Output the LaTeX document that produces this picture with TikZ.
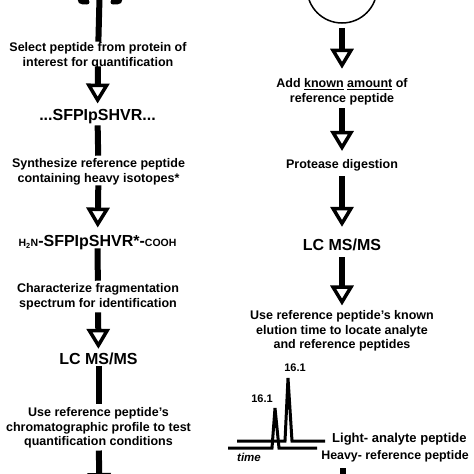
\documentclass[tikz,border=0pt]{standalone}
\usepackage{fontspec}
\setmainfont{Liberation Sans}
\usetikzlibrary{arrows.meta}

\begin{document}
\begin{tikzpicture}[x=1pt,y=-1pt,
  txt/.style={font=\bfseries\fontsize{12.5}{14.5}\selectfont, align=center, inner sep=0pt},
  big/.style={font=\bfseries\fontsize{16}{18}\selectfont, inner sep=0pt},
  small/.style={font=\bfseries\fontsize{11}{13}\selectfont, inner sep=0pt},
  shaft/.style={line width=6pt, shorten <=1pt, shorten >=3pt},
  arrow/.style={line width=6pt, -{Triangle[open, length=20pt, width=23pt, line width=3.5pt]}},
  trace/.style={line width=3pt}]
\useasboundingbox (0,0) rectangle (474,474);
\clip (0,0) rectangle (474,474);
% left column: synthetic reference peptide
\draw[line width=5pt, line cap=round] (80,-5) .. controls (80,2) .. (87,2);
\draw[line width=5pt, line cap=round] (120,-5) .. controls (120,2) .. (113,2);
\coordinate (topL) at (99.5,-2);
\node[txt] (select) at (98,56) {Select peptide from protein of\\interest for quantification};
\node[big] (pep) at (97.5,117) {...SFPIpSHVR...};
\node[txt] (synth) at (98.5,172) {Synthesize reference peptide\\containing heavy isotopes*};
\node[big] (hnn) at (97.5,243) {{\fontsize{10.5}{12}\selectfont H\textsubscript{2}N}-SFPIpSHVR*-{\fontsize{10.5}{12}\selectfont COOH}};
\node[txt] (charac) at (98,297) {Characterize fragmentation\\spectrum for identification};
\node[big] (lcL) at (98.5,359) {LC MS/MS};
\node[txt] (useL) at (98.5,428) {Use reference peptide's\\chromatographic profile to test\\quantification conditions};
\coordinate (outL) at (99.5,493);
\draw[shaft, shorten >=1pt] (topL) -- (select);
\draw[arrow, shorten <=-3pt, shorten >=6pt] (select) -- (pep);
\draw[shaft] (pep) -- (synth);
\draw[arrow, shorten >=8pt] (synth) -- (hnn);
\draw[shaft, shorten <=-2pt] (hnn) -- (charac);
\draw[arrow, shorten <=2pt, shorten >=4pt] (charac) -- (lcL);
\draw[shaft] (lcL) -- (useL);
\draw[arrow, shorten <=2pt] (useL) -- (outL);
% right column: sample
\node[draw, circle, line width=1.5pt, minimum size=70pt, inner sep=0pt] (prot) at (342,-12) {};
\node[txt] (add) at (342,92) {Add \underline{known} \underline{amount} of\\reference peptide};
\node[txt] (digest) at (342,165) {Protease digestion};
\node[big] (lcR) at (342,245) {LC MS/MS};
\node[txt] (useR) at (342,331) {Use reference peptide's known\\elution time to locate analyte\\and reference peptides};
\draw[arrow, shorten <=4pt, shorten >=10pt] (prot) -- (add);
\draw[arrow, shorten <=3pt, shorten >=8pt] (add) -- (digest);
\draw[arrow, shorten <=5pt, shorten >=12pt] (digest) -- (lcR);
\draw[arrow, shorten <=6pt, shorten >=5pt] (lcR) -- (useR);
% chromatogram
\draw[trace] (237,441) -- (285,441) -- (288,378) -- (292,441) -- (325,441);
\draw[trace] (228,448) -- (272,448) -- (275,408) -- (279,448) -- (317,448);
\node[small] (tall) at (295,368) {16.1};
\node[small] (short) at (262,399) {16.1};
\node[font=\bfseries\itshape\fontsize{11.5}{13}\selectfont, inner sep=0pt] (time) at (249,457) {time};
\node[font=\bfseries\fontsize{13}{15}\selectfont, inner sep=0pt, anchor=west] (light) at (332,439) {Light- analyte peptide};
\node[font=\bfseries\fontsize{12.4}{15}\selectfont, inner sep=0pt, anchor=east] (heavy) at (469,456) {Heavy- reference peptide};
\coordinate (next) at (343,467);
\coordinate (outR) at (343,490);
\draw[shaft] (next) -- (outR);
\end{tikzpicture}
\end{document}
